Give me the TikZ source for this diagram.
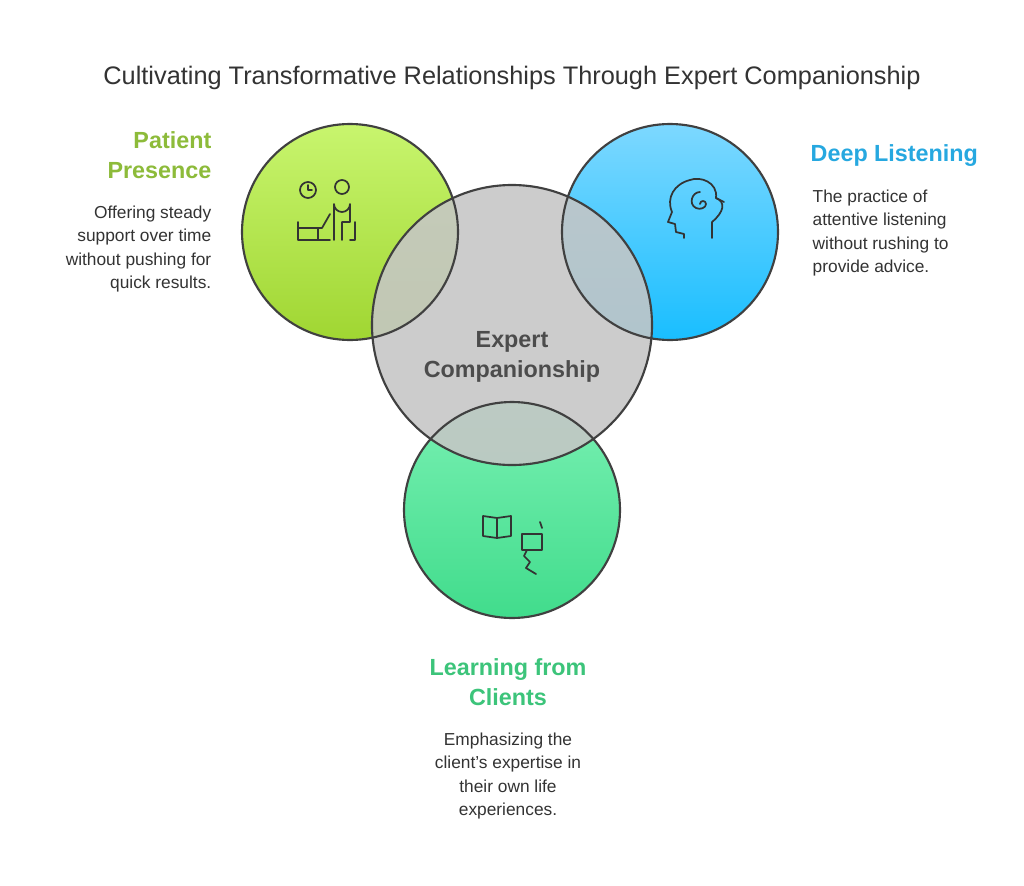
\documentclass[tikz,border=0pt]{standalone}
\usepackage{fontspec}
\setmainfont{Liberation Sans}
\begin{document}
\begin{tikzpicture}[x=0.75pt,y=-0.75pt,
  ring/.style={draw=black!75,line width=1.6pt},
  ico/.style={draw=black!80,line width=1.3pt,line cap=round,line join=round},
  head/.style={font=\bfseries\fontsize{17.5}{22}\selectfont},
  desc/.style={font=\fontsize{13}{17.3}\selectfont,text=black!80}]
\useasboundingbox[fill=white] (0,0) rectangle (1024,885);
\node[font=\fontsize{19}{22}\selectfont,text=black!80] (title) at (512,78) {Cultivating Transformative Relationships Through Expert Companionship};
% circles
\shade[top color={rgb,255:red,200;green,245;blue,110},bottom color={rgb,255:red,160;green,214;blue,50}] (350,232) circle[radius=108];
\shade[top color={rgb,255:red,125;green,216;blue,255},bottom color={rgb,255:red,25;green,190;blue,255}] (670,232) circle[radius=108];
\shade[top color={rgb,255:red,120;green,240;blue,178},bottom color={rgb,255:red,65;green,220;blue,140}] (512,510) circle[radius=108];
\fill[gray!45,opacity=0.88] (512,325) circle[radius=140];
\node[ring,circle,minimum size=216*0.75pt] (pp) at (350,232) {};
\node[ring,circle,minimum size=216*0.75pt] (dl) at (670,232) {};
\node[ring,circle,minimum size=216*0.75pt] (lc) at (512,510) {};
\node[ring,circle,minimum size=280*0.75pt] (ec) at (512,325) {};
\node[head,text=black!70,align=center] (ect) at (512,357) {Expert\\Companionship};
% texts
\node[head,text={rgb,255:red,141;green,187;blue,58},align=right,anchor=east] (ppt) at (216,155) {Patient\\Presence};
\node[desc,align=right,anchor=east] (ppd) at (216,249) {Offering steady\\support over time\\without pushing for\\quick results.};
\node[head,text={rgb,255:red,38;green,168;blue,224},anchor=west] (dlt) at (806,156) {Deep Listening};
\node[desc,align=left,anchor=west] (dld) at (808,233) {The practice of\\attentive listening\\without rushing to\\provide advice.};
\node[head,text={rgb,255:red,60;green,196;blue,122},align=center] (lct) at (508,682) {Learning from\\Clients};
\node[desc,align=center] (lcd) at (508,776) {Emphasizing the\\client's expertise in\\their own life\\experiences.};
% icon patient presence
\draw[ico] (308,190) circle[radius=8];
\draw[ico] (308,185) -- (308,190) -- (312,190);
\draw[ico] (342,187) circle[radius=7];
\draw[ico] (334,214) -- (334,204) arc(180:0:8) -- (350,214) (334,214) -- (334,240) (342,222)--(342,240) (350,214)--(350,222)--(342,222) (350,240)--(355,240)--(355,222);
\draw[ico] (298,240) -- (298,222) (298,228) -- (322,228) -- (330,214) (298,240)--(330,240) (318,228)--(318,240);
% icon deep listening
\draw[ico] (712,238) -- (712,222) .. controls (724,212) and (726,202) .. (716,198) .. controls (718,182) and (700,176) .. (690,180) .. controls (674,184) and (666,198) .. (672,212) -- (668,222) -- (675,224) -- (676,232) -- (684,234) -- (684,238);
\draw[ico] (700,192) .. controls (692,192) and (688,204) .. (696,208) .. controls (700,210) and (706,208) .. (706,204) .. controls (706,200) and (700,200) .. (700,204);
\draw[ico] (716,198) -- (724,202);
% icon learning from clients
\draw[ico] (497,538) -- (483,536) -- (483,516) -- (497,518) -- (511,516) -- (511,536) -- (497,538) -- (497,518);
\draw[ico] (522,534) rectangle (542,550);
\draw[ico] (540,522) -- (542,528);
\draw[ico] (527,550) -- (524,556) -- (530,562) -- (526,568) -- (536,574);
\end{tikzpicture}
\end{document}
